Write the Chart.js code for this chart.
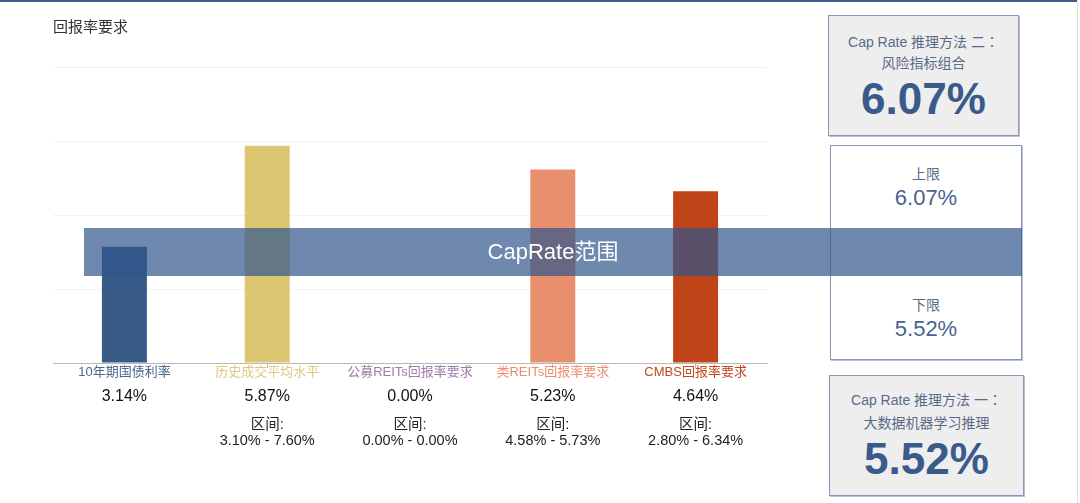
<!DOCTYPE html>
<html>
<head>
<meta charset="utf-8">
<script src="https://cdn.jsdelivr.net/npm/chart.js@4"></script>
<style>
  html, body { margin: 0; padding: 0; background: #fff; }
  body { width: 1080px; height: 503px; position: relative; overflow: hidden;
         font-family: "Liberation Sans", "Noto Sans CJK SC", sans-serif; }
  #topline { position: absolute; left: 0; top: 0; width: 1077px; height: 2px; background: #3d5d8a; }
  #edge { position: absolute; left: 1077px; top: 0; width: 1px; height: 503px; background: #dedede; }
  #wrap { position: absolute; left: 0; top: 0; width: 790px; height: 503px; }
  .box { position: absolute; box-sizing: border-box; border: 1px solid #8797b5; box-shadow: 1px 1px 0 #b7c2d5; }
  .grey { background: #eeeeee; }
  .t { position: absolute; left: 0; right: 0; text-align: center; white-space: nowrap; }
  .head { font-size: 14px; line-height: 20px; color: #5a6b8a;
          font-family: "Liberation Sans", "Noto Sans CJK TC", sans-serif; }
  .big { font-size: 44px; line-height: 50px; font-weight: bold; color: #3a5a8a; }
  .lim { font-size: 22px; line-height: 26px; color: #4a638c; }
  #band { position: absolute; left: 84px; top: 228px; width: 938px; height: 48px;
          background: rgba(49, 86, 139, 0.7); color: #fff; font-size: 22px; line-height: 48px;
          text-align: center; z-index: 10; }
</style>
</head>
<body>
<div id="topline"></div>
<div id="edge"></div>
<div id="wrap"><canvas id="rateChart"></canvas></div>

<div class="box grey" style="left:828px;top:15px;width:191px;height:121px;">
  <div class="t head" style="top:16px;">Cap Rate 推理方法 二：</div>
  <div class="t head" style="top:37px;">风险指标组合</div>
  <div class="t big" id="method2" style="top:58px;"></div>
</div>
<div class="box" style="left:830px;top:145px;width:192px;height:215px;">
  <div class="t head" style="top:18px;">上限</div>
  <div class="t lim" id="upper" style="top:39px;"></div>
  <div class="t head" style="top:149px;">下限</div>
  <div class="t lim" id="lower" style="top:170px;"></div>
</div>
<div class="box grey" style="left:829px;top:375px;width:195px;height:121px;">
  <div class="t head" style="top:14px;">Cap Rate 推理方法 一：</div>
  <div class="t head" style="top:37px;">大数据机器学习推理</div>
  <div class="t big" id="method1" style="top:58px;"></div>
</div>
<div id="band">CapRate范围</div>

<script>
const categories = ["10年期国债利率", "历史成交平均水平", "公募REITs回报率要求", "类REITs回报率要求", "CMBS回报率要求"];
const rates = [3.14, 5.87, 0.00, 5.23, 4.64];
const rangeLow = [null, 3.10, 0.00, 4.58, 2.80];
const rangeHigh = [null, 7.60, 0.00, 5.73, 6.34];
const barColors = ["#375a87", "#dcc672", "#9d7aa8", "#ea8f6e", "#bf4519"];
const labelColors = ["#4a6890", "#dfc87a", "#a07cab", "#ec8e6e", "#c2481e"];
const capRateUpper = 6.07;
const capRateLower = 5.52;
const method1 = 5.52;
const method2 = 6.07;

const pct = v => v.toFixed(2) + "%";

document.getElementById("method1").textContent = pct(method1);
document.getElementById("method2").textContent = pct(method2);
document.getElementById("upper").textContent = pct(capRateUpper);
document.getElementById("lower").textContent = pct(capRateLower);

const FONT = '"Liberation Sans", "Noto Sans CJK SC", sans-serif';
Chart.defaults.font.family = FONT;

// values and ranges printed under each category
const underLabels = {
    id: "underLabels",
    afterDraw(chart) {
        const ctx = chart.ctx;
        const x = chart.scales.x;
        const base = chart.chartArea.bottom;
        ctx.save();
        ctx.textAlign = "center";
        ctx.textBaseline = "middle";
        categories.forEach((c, i) => {
            const px = x.getPixelForValue(i);
            ctx.fillStyle = "#111";
            ctx.font = "16px " + FONT;
            ctx.fillText(pct(rates[i]), px, base + 34);
            if (rangeLow[i] !== null) {
                ctx.fillStyle = "#222";
                ctx.font = "14.5px " + FONT;
                ctx.fillText("区间:", px, base + 62);
                ctx.fillText(pct(rangeLow[i]) + " - " + pct(rangeHigh[i]), px, base + 78);
            }
        });
        ctx.restore();
    }
};

new Chart(document.getElementById("rateChart"), {
    type: "bar",
    data: {
        labels: categories,
        datasets: [{
            data: rates,
            backgroundColor: barColors,
            barPercentage: 0.315,
            categoryPercentage: 1
        }]
    },
    options: {
        responsive: true,
        maintainAspectRatio: false,
        animation: false,
        layout: { padding: { left: 53, right: 23, top: 0, bottom: 0 } },
        plugins: {
            legend: { display: false },
            tooltip: { enabled: false },
            title: {
                display: true,
                text: "回报率要求",
                align: "start",
                color: "#333",
                font: { size: 15, weight: "normal" },
                padding: { top: 19, bottom: 30 }
            }
        },
        scales: {
            x: {
                grid: {
                    drawOnChartArea: false,
                    drawTicks: true,
                    tickLength: 5,
                    offset: false,
                    color: "#b8b8b8"
                },
                border: { display: true, color: "#b8b8b8" },
                ticks: {
                    padding: -3,
                    maxRotation: 0,
                    autoSkip: false,
                    font: { size: 13 },
                    color: c => labelColors[c.index]
                },
                afterFit: s => { s.height = 140; }
            },
            y: {
                min: 0,
                max: 8,
                ticks: { display: false, stepSize: 2 },
                border: { display: false },
                grid: {
                    drawTicks: false,
                    color: c => c.tick && c.tick.value === 0 ? "#b8b8b8" : "#f2f2f2"
                },
                afterFit: s => { s.width = 0; }
            }
        }
    },
    plugins: [underLabels]
});
</script>
</body>
</html>
